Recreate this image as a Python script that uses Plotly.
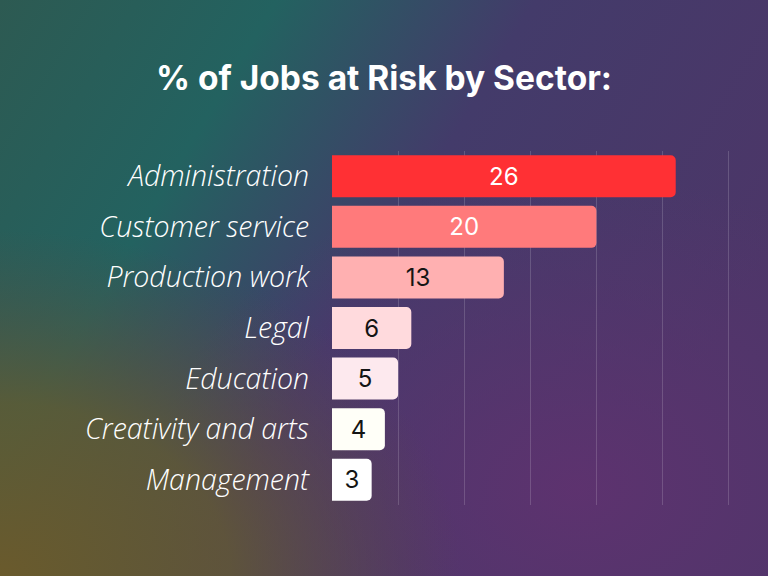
import base64
import plotly.graph_objects as go

sectors = ["Administration", "Customer service", "Production work", "Legal",
           "Education", "Creativity and arts", "Management"]
risk_pct = [26, 20, 13, 6, 5, 4, 3]
bar_colors = ["#ff3034", "#ff7a7b", "#ffb0b1", "#ffdadd", "#fde9ee", "#fffff8", "#ffffff"]
text_colors = ["#ffffff", "#ffffff", "#141414", "#141414", "#141414", "#141414", "#141414"]
grid_ticks = [0, 5, 10, 15, 20, 25, 30]

W, H = 768, 576
L, R, T, B = 332, 34, 151, 71
pw, ph = W - L - R, H - T - B

# gradient backdrop (teal top-left, olive bottom-left, purple right)
svg = f"""<svg xmlns='http://www.w3.org/2000/svg' width='{W}' height='{H}' viewBox='0 0 {W} {H}' preserveAspectRatio='none'>
<defs>
<linearGradient id='base' x1='0' y1='0' x2='1' y2='0.45'>
<stop offset='0' stop-color='#2d5a52'/>
<stop offset='0.3' stop-color='#236260'/>
<stop offset='0.58' stop-color='#433b6a'/>
<stop offset='1' stop-color='#4c3668'/>
</linearGradient>
<radialGradient id='olive' cx='0' cy='1' r='0.6'>
<stop offset='0' stop-color='#6a5a2c' stop-opacity='1'/>
<stop offset='0.5' stop-color='#645a30' stop-opacity='0.8'/>
<stop offset='1' stop-color='#5a4a40' stop-opacity='0'/>
</radialGradient>
<radialGradient id='violet' cx='0.75' cy='0.85' r='0.55'>
<stop offset='0' stop-color='#5e326f' stop-opacity='0.95'/>
<stop offset='1' stop-color='#5a3470' stop-opacity='0'/>
</radialGradient>
</defs>
<rect width='{W}' height='{H}' fill='url(#base)'/>
<rect width='{W}' height='{H}' fill='url(#violet)'/>
<rect width='{W}' height='{H}' fill='url(#olive)'/>
</svg>"""
bg_src = "data:image/svg+xml;base64," + base64.b64encode(svg.encode()).decode()

fig = go.Figure()
fig.add_trace(go.Bar(
    x=risk_pct,
    y=sectors,
    orientation="h",
    marker=dict(color=bar_colors, line=dict(width=0)),
    text=[str(v) for v in risk_pct],
    textposition="inside",
    insidetextanchor="middle",
    textangle=0,
    textfont=dict(family="Inter, Roboto, sans-serif", size=24, color=text_colors),
    hoverinfo="skip",
))

fig.update_layout(
    width=W,
    height=H,
    margin=dict(l=L, r=R, t=T, b=B),
    paper_bgcolor="#4a3a66",
    plot_bgcolor="rgba(0,0,0,0)",
    bargap=0.17,
    barcornerradius=5,
    showlegend=False,
    title=dict(
        text="<b>% of Jobs at Risk by Sector:</b>",
        x=0.5, xref="container", xanchor="center",
        y=1 - 78 / H, yref="container", yanchor="middle",
        font=dict(family="Inter, Roboto, sans-serif", size=33.5, color="#ffffff"),
    ),
    images=[dict(
        source=bg_src, xref="paper", yref="paper",
        x=-L / pw, y=1 + T / ph, sizex=W / pw, sizey=H / ph,
        xanchor="left", yanchor="top", sizing="stretch", layer="below",
    )],
    xaxis=dict(
        range=[0, pw / 13.22],
        tickvals=grid_ticks,
        showticklabels=False,
        showgrid=True,
        gridcolor="rgba(255,255,255,0.16)",
        gridwidth=1,
        zeroline=False,
        showline=False,
    ),
    yaxis=dict(
        autorange="reversed",
        showgrid=False,
        zeroline=False,
        showline=False,
        ticks="",
        ticklabelstandoff=22,
        tickfont=dict(family="Open Sans, sans-serif", size=28.5, weight=300,
                      color="#ffffff", style="italic"),
    ),
)

fig.write_html("out.html", config={"displayModeBar": False},
               post_script="document.body.style.margin='0';")
